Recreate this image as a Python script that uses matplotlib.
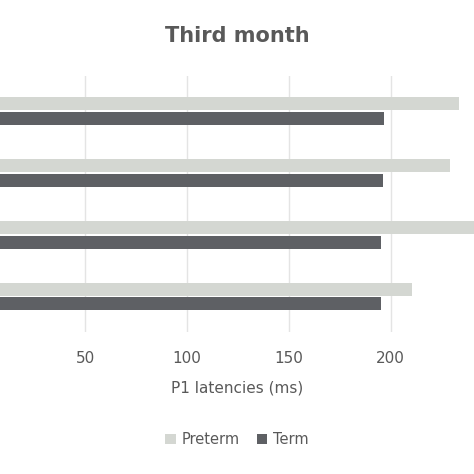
import matplotlib
matplotlib.use('Agg')
import matplotlib.pyplot as plt
import numpy as np

groups = [0, 1, 2, 3]
preterm = [233.5, 229, 243, 210.5]
term = [197, 196.5, 195.5, 195.5]

fig = plt.figure(figsize=(4.74, 4.74), dpi=100)
ax = fig.add_axes([0, 0.30, 1, 0.54])
y = np.array(groups)
ax.barh(y - 0.12, preterm, height=0.21, color='#d4d7d2', label='Preterm', zorder=2)
ax.barh(y + 0.12, term, height=0.21, color='#5e6064', label='Term', zorder=2)
ax.set_xlim(8.2, 241)
ax.set_ylim(3.57, -0.57)
ax.set_xticks([50, 100, 150, 200])
ax.xaxis.grid(True, color='#e4e4e4', linewidth=1, zorder=0)
ax.set_yticks([])
for s in ax.spines.values():
    s.set_visible(False)
ax.tick_params(axis='x', length=0, labelsize=11, colors='#595959', pad=14)
ax.set_xlabel('P1 latencies (ms)', fontsize=11, color='#595959', labelpad=10)
fig.text(0.5, 0.925, 'Third month', ha='center', va='center', fontsize=15,
         fontweight='bold', color='#595959')
fig.legend(loc='center', bbox_to_anchor=(0.5, 0.072), ncol=2, frameon=False,
           fontsize=10.5, labelcolor='#595959', handlelength=0.7, handleheight=0.7,
           columnspacing=1.2, handletextpad=0.4)
fig.savefig('out.png', dpi=100)
